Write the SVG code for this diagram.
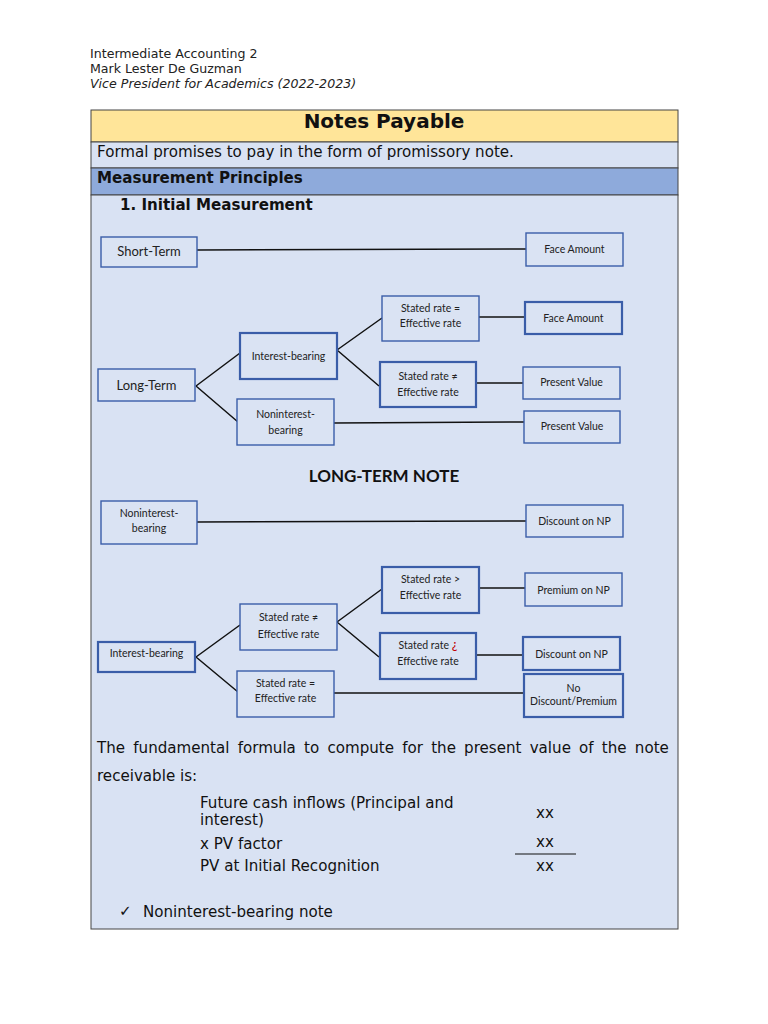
<svg xmlns="http://www.w3.org/2000/svg" width="768" height="1024" viewBox="0 0 768 1024">
<style>
.hd{font-family:"DejaVu Sans",sans-serif;font-size:12.6px;fill:#222}
.body{font-family:"DejaVu Sans",sans-serif;font-size:15.1px;fill:#111}
.bold{font-weight:bold}
.title{font-size:20px}
.box{fill:#DAE3F3;stroke:#3A5DA8;stroke-width:1.4}
.thick{stroke-width:2.2}
.bt{font-family:Lato,"Open Sans",sans-serif;font-size:10.5px;fill:#222;text-anchor:middle}
.bl{font-size:13px}
.ln{stroke:#111;stroke-width:1.5;fill:none}
</style>
<rect width="768" height="1024" fill="#fff"/>
<g id="header">
<text class="hd" x="90" y="58">Intermediate Accounting 2</text>
<text class="hd" x="90" y="73">Mark Lester De Guzman</text>
<text class="hd" x="90" y="88" font-style="italic">Vice President for Academics (2022-2023)</text>
</g>
<g id="table">
<rect x="91" y="110" width="587" height="32" fill="#FFE599" stroke="#444" stroke-width="1"/>
<rect x="91" y="142" width="587" height="26" fill="#D9E2F3" stroke="#444" stroke-width="1"/>
<rect x="91" y="168" width="587" height="27" fill="#8EAADB" stroke="#444" stroke-width="1"/>
<rect x="91" y="195" width="587" height="734" fill="#D9E2F3" stroke="#444" stroke-width="1"/>
<text class="body bold title" x="384" y="128" text-anchor="middle">Notes Payable</text>
<text class="body" x="97" y="157">Formal promises to pay in the form of promissory note.</text>
<text class="body bold" x="97" y="183">Measurement Principles</text>
<text class="body bold" x="120" y="210">1. Initial Measurement</text>
</g>
<g id="connectors">
<path class="ln" d="M197 250 L526 249"/>
<path class="ln" d="M196 386 L240 353 M196 386 L238 422"/>
<path class="ln" d="M337 350 L382 318 M337 350 L379 386"/>
<path class="ln" d="M479 317 L525 317"/>
<path class="ln" d="M476 383 L523 383"/>
<path class="ln" d="M334 423 L524 422"/>
<path class="ln" d="M197 522 L526 521"/>
<path class="ln" d="M196 657 L240 625 M196 657 L238 692"/>
<path class="ln" d="M337 622 L382 589 M337 622 L379 657"/>
<path class="ln" d="M479 588 L525 588"/>
<path class="ln" d="M476 655 L523 655"/>
<path class="ln" d="M334 693 L524 693"/>
</g>
<g id="n-short"><rect class="box" x="101" y="237" width="96" height="30"/><text class="bt bl" x="149" y="256">Short-Term</text></g>
<g id="n-face1"><rect class="box" x="526" y="233" width="97" height="33"/><text class="bt" x="574.500" y="253">Face Amount</text></g>
<g id="n-long"><rect class="box" x="98" y="369" width="97" height="32"/><text class="bt bl" x="146.500" y="390">Long-Term</text></g>
<g id="n-ib1"><rect class="box thick" x="240" y="333" width="97" height="46"/><text class="bt" x="288.500" y="360">Interest-bearing</text></g>
<g id="n-nib1"><rect class="box" x="237" y="399" width="97" height="46"/><text class="bt" x="285.500" y="418">Noninterest-</text><text class="bt" x="285.500" y="434">bearing</text></g>
<g id="n-seq1"><rect class="box" x="382" y="296" width="97" height="45"/><text class="bt" x="430.500" y="312">Stated rate =</text><text class="bt" x="430.500" y="327">Effective rate</text></g>
<g id="n-face2"><rect class="box thick" x="525" y="302" width="97" height="32"/><text class="bt" x="573.500" y="322">Face Amount</text></g>
<g id="n-sne1"><rect class="box thick" x="380" y="362" width="96" height="45"/><text class="bt" x="428" y="380">Stated rate ≠</text><text class="bt" x="428" y="396">Effective rate</text></g>
<g id="n-pv1"><rect class="box" x="523" y="367" width="97" height="32"/><text class="bt" x="571.500" y="386">Present Value</text></g>
<g id="n-pv2"><rect class="box" x="524" y="411" width="96" height="32"/><text class="bt" x="572" y="430">Present Value</text></g>
<text x="384" y="482" text-anchor="middle" font-family="Lato,sans-serif" font-weight="bold" font-size="17" fill="#111">LONG-TERM NOTE</text>
<g id="n-nib2"><rect class="box" x="101" y="501" width="96" height="43"/><text class="bt" x="149" y="517">Noninterest-</text><text class="bt" x="149" y="532">bearing</text></g>
<g id="n-disc1"><rect class="box" x="526" y="505" width="97" height="32"/><text class="bt" x="574.500" y="525">Discount on NP</text></g>
<g id="n-ib2"><rect class="box thick" x="98" y="642" width="97" height="30"/><text class="bt" x="146.500" y="657">Interest-bearing</text></g>
<g id="n-sne2"><rect class="box" x="240" y="604" width="97" height="46"/><text class="bt" x="288.500" y="621">Stated rate ≠</text><text class="bt" x="288.500" y="638">Effective rate</text></g>
<g id="n-seq2"><rect class="box" x="237" y="671" width="97" height="46"/><text class="bt" x="285.500" y="687">Stated rate =</text><text class="bt" x="285.500" y="702">Effective rate</text></g>
<g id="n-sgt"><rect class="box thick" x="382" y="567" width="97" height="46"/><text class="bt" x="430.500" y="583">Stated rate &gt;</text><text class="bt" x="430.500" y="599">Effective rate</text></g>
<g id="n-prem"><rect class="box" x="525" y="573" width="97" height="33"/><text class="bt" x="573.500" y="594">Premium on NP</text></g>
<g id="n-slt"><rect class="box thick" x="380" y="633" width="96" height="46"/><text class="bt" x="428" y="649">Stated rate <tspan fill="#C00000" font-size="13">¿</tspan></text><text class="bt" x="428" y="665">Effective rate</text></g>
<g id="n-disc2"><rect class="box thick" x="523" y="637" width="97" height="33"/><text class="bt" x="571.500" y="658">Discount on NP</text></g>
<g id="n-nodp"><rect class="box thick" x="524" y="674" width="99" height="43"/><text class="bt" x="573.500" y="692">No</text><text class="bt" x="573.500" y="705">Discount/Premium</text></g>
<g id="formula">
<text class="body" x="97" y="753" word-spacing="3.4">The fundamental formula to compute for the present value of the note</text>
<text class="body" x="97" y="781">receivable is:</text>
<text class="body" x="200" y="808">Future cash inflows (Principal and</text>
<text class="body" x="200" y="825">interest)</text>
<text class="body" x="545" y="818" text-anchor="middle">xx</text>
<text class="body" x="200" y="849">x PV factor</text>
<text class="body" x="545" y="847" text-anchor="middle">xx</text>
<line x1="515" y1="854" x2="576" y2="854" stroke="#111" stroke-width="1.2"/>
<text class="body" x="200" y="871">PV at Initial Recognition</text>
<text class="body" x="545" y="871" text-anchor="middle">xx</text>
<text class="body" x="119" y="916">✓</text>
<text class="body" x="143" y="917">Noninterest-bearing note</text>
</g>
</svg>
